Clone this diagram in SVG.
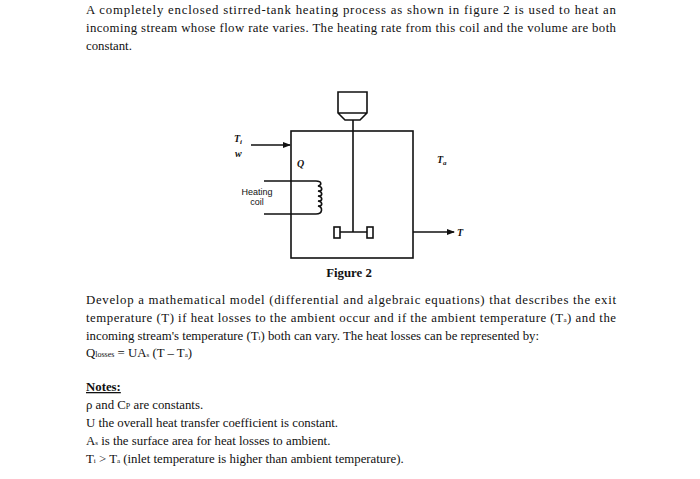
<svg xmlns="http://www.w3.org/2000/svg" width="700" height="479" viewBox="0 0 700 479">
<style>
.t{font-family:"Liberation Serif",serif;font-size:12.8px;fill:#111}
.s{font-family:"Liberation Sans",sans-serif;font-size:9px;fill:#111}
.i{font-family:"Liberation Serif",serif;font-style:italic;font-weight:bold;font-size:10px;fill:#111}
.ln{stroke:#111;stroke-width:1.6;fill:none}
</style>
<defs><marker id="a" markerWidth="8" markerHeight="6" refX="7" refY="3" orient="auto" markerUnits="userSpaceOnUse"><path d="M0,0L8,3L0,6z" fill="#111"/></marker></defs>
<rect width="700" height="479" fill="#fff"/>
<text class="t" x="86" y="14" textLength="530" lengthAdjust="spacing">A completely enclosed stirred-tank heating process as shown in figure 2 is used to heat an</text>
<text class="t" x="86" y="32" textLength="530" lengthAdjust="spacing">incoming stream whose flow rate varies. The heating rate from this coil and the volume are both</text>
<text class="t" x="86" y="50">constant.</text>
<g id="motor"><path class="ln" d="M338,92H367V113L360,120H345L338,113Z M338,113H367"/></g>
<g id="tank"><rect class="ln" x="291" y="131" width="122" height="127"/></g>
<g id="shaft"><path class="ln" d="M353,120V232 M340,232H367"/><rect class="ln" x="334" y="227" width="6" height="11" stroke-width="1.2"/><rect class="ln" x="367" y="227" width="6" height="11" stroke-width="1.2"/></g>
<g id="coil"><path class="ln" d="M264,181H316 M264,214H316"/><path class="ln" stroke-width="1.2" d="M316,181C322,181 322,185 318,186C323,187 323,191 318,191C323,192 323,196 318,196C323,197 323,201 318,201C323,202 323,206 318,206C323,207 323,214 316,214"/>
<text class="s" x="257" y="195" text-anchor="middle">Heating</text><text class="s" x="257" y="205" text-anchor="middle">coil</text></g>
<g id="connectors"><line class="ln" x1="251" y1="145" x2="290" y2="145" marker-end="url(#a)"/><line class="ln" x1="413" y1="232" x2="454" y2="232" marker-end="url(#a)"/></g>
<text class="i" x="234" y="142">T<tspan font-size="7" dy="2">i</tspan></text>
<text class="i" x="235" y="157" font-weight="normal">w</text>
<text class="i" x="297" y="167">Q</text>
<text class="i" x="437" y="163">T<tspan font-size="7" dy="2">a</tspan></text>
<text class="i" x="457" y="236">T</text>
<text class="t" x="349" y="277" text-anchor="middle" font-weight="bold">Figure 2</text>
<text class="t" x="86" y="304" textLength="530" lengthAdjust="spacing">Develop a mathematical model (differential and algebraic equations) that describes the exit</text>
<text class="t" x="86" y="322" textLength="530" lengthAdjust="spacing">temperature (T) if heat losses to the ambient occur and if the ambient temperature (T<tspan font-size="7">a</tspan>) and the</text>
<text class="t" x="86" y="340">incoming stream's temperature (T<tspan font-size="7">i</tspan>) both can vary. The heat losses can be represented by:</text>
<text class="t" x="86" y="357">Q<tspan font-size="8">losses</tspan> = UA<tspan font-size="7">s</tspan> (T – T<tspan font-size="7">a</tspan>)</text>
<text class="t" x="86" y="391" font-weight="bold" text-decoration="underline">Notes:</text>
<text class="t" x="86" y="409">ρ and C<tspan font-size="8">P</tspan> are constants.</text>
<text class="t" x="86" y="427">U the overall heat transfer coefficient is constant.</text>
<text class="t" x="86" y="445">A<tspan font-size="7">s</tspan> is the surface area for heat losses to ambient.</text>
<text class="t" x="86" y="463">T<tspan font-size="7">i</tspan> &gt; T<tspan font-size="7">a</tspan> (inlet temperature is higher than ambient temperature).</text>
</svg>
